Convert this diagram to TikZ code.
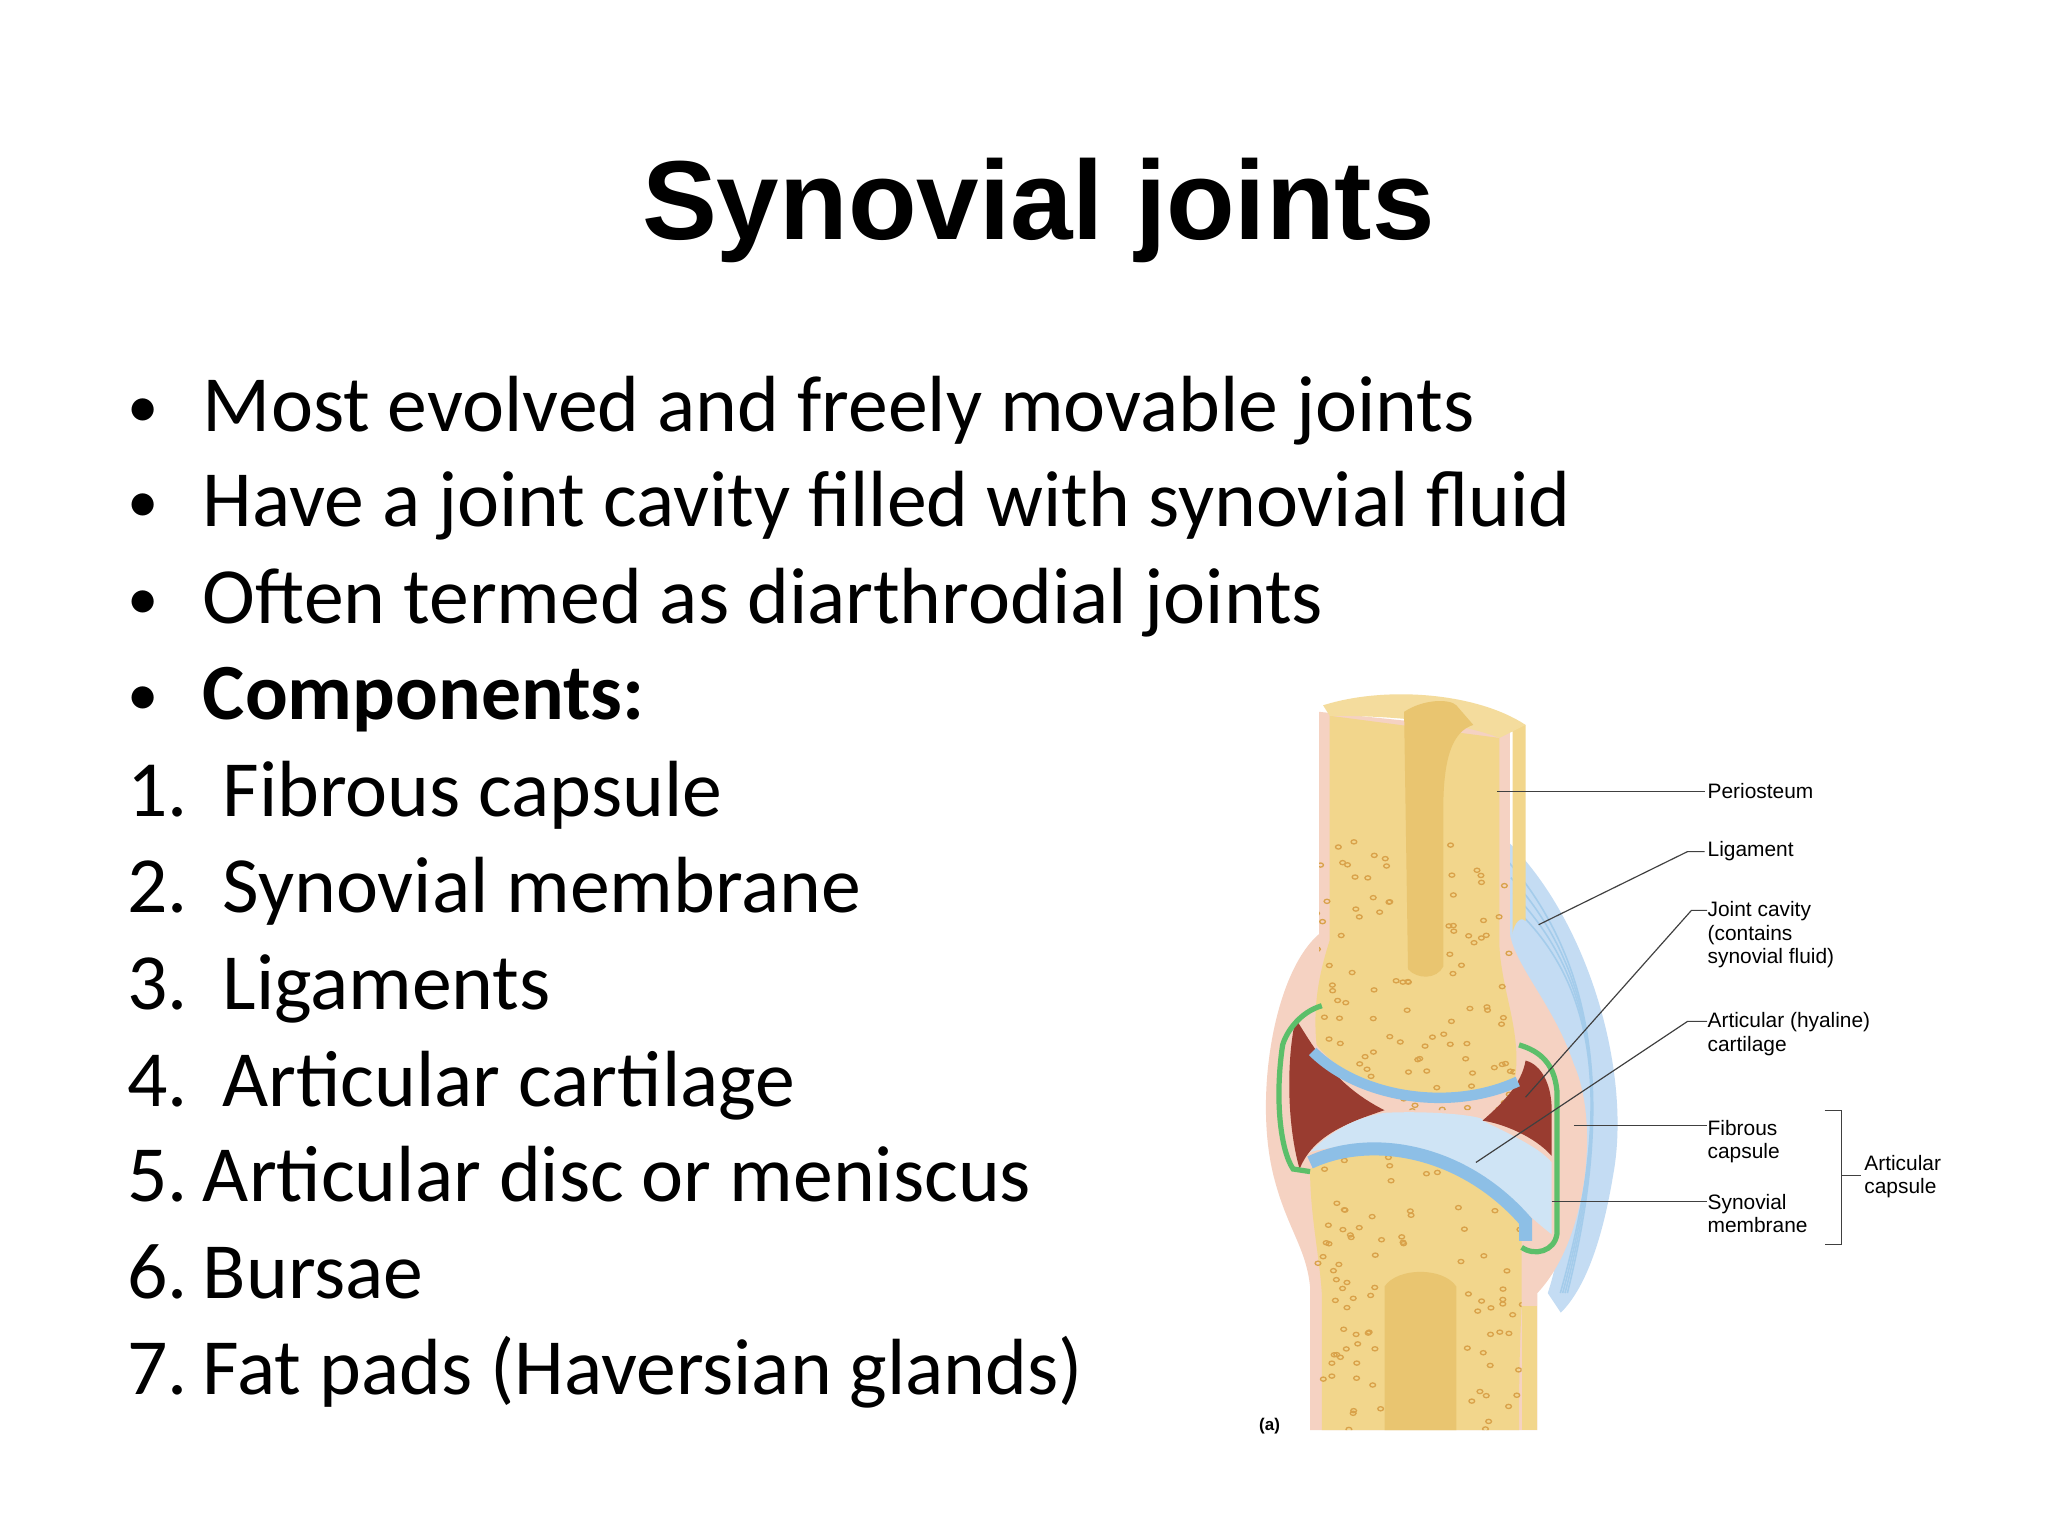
\documentclass[tikz,border=0pt]{standalone}
\usepackage{fontspec}
\setmainfont{Carlito}
\newfontfamily\arialf{Liberation Sans}
\definecolor{boneY}{HTML}{F2D68C}
\definecolor{boneD}{HTML}{E3B95E}
\definecolor{spot}{HTML}{D9A24A}
\definecolor{pinkP}{HTML}{F5D2C2}
\definecolor{cartB}{HTML}{8DBFE6}
\definecolor{cartL}{HTML}{CFE4F5}
\definecolor{cavR}{HTML}{993C30}
\definecolor{memG}{HTML}{5CBF6A}
\definecolor{ligB}{HTML}{C4DCF3}
\begin{document}
\begin{tikzpicture}[x=0.5pt,y=-0.5pt,
  bul/.style={anchor=base west,font=\fontsize{30.5}{30.5}\selectfont,inner sep=0},
  dot/.style={anchor=base west,font=\fontsize{24}{24}\selectfont,inner sep=0},
  lab/.style={anchor=west,font=\arialf\fontsize{8}{9}\selectfont,align=left,inner sep=1pt},
  lead/.style={draw=black!75,line width=0.45pt}]
\useasboundingbox (0,0) rectangle (1568,1176);
\fill[white] (0,0) rectangle (1568,1176);
% title
\node[anchor=base,font=\arialf\bfseries\fontsize{43}{43}\selectfont,inner sep=0] (title) at (795,183) {Synovial joints};
% bullets
\foreach \y/\t [count=\i] in {330/Most evolved and freely movable joints,403/Have a joint cavity filled with synovial fluid,477/Often termed as diarthrodial joints}{
  \node[dot] (bd\i) at (97,\y-3) {\textbullet};
  \node[bul] (b\i) at (155,\y) {\t};}
\node[dot] (bd4) at (97,548) {\textbullet};
\node[bul] (b4) at (155,551) {\textbf{Components:}};
\foreach \y/\n/\t in {625/1/Fibrous capsule,699/2/Synovial membrane,773/3/Ligaments,847/4/Articular cartilage}{
  \node[bul] (n\n) at (97,\y) {\n.};
  \node[bul] (c\n) at (170,\y) {\t};}
\foreach \y/\n/\t in {920/5/Articular disc or meniscus,994/6/Bursae,1068/7/Fat pads (Haversian glands)}{
  \node[bul] (n\n) at (97,\y) {\n.};
  \node[bul] (c\n) at (155,\y) {\t};}
% ---- joint illustration ----
% ligament
\fill[ligB] (1150,640) .. controls (1215,700) and (1250,820) .. (1235,900) .. controls (1225,960) and (1210,990) .. (1195,1005) -- (1185,990) .. controls (1205,930) and (1205,820) .. (1150,720) -- cycle;
\foreach \o in {0,6,12,18}{\draw[cartB!80,line width=0.6pt] (1155+\o*0.3,660+\o*2) .. controls (1215,730+\o) and (1240,830) .. (1200-\o*0.3,990);}
% pink silhouette
\fill[pinkP] (1010,545) -- (1010,715) .. controls (975,745) and (960,840) .. (975,900) .. controls (985,940) and (1000,955) .. (1003,985) -- (1003,1095) -- (1177,1095) -- (1177,990) .. controls (1215,950) and (1225,860) .. (1205,815) .. controls (1190,770) and (1160,740) .. (1156,715) -- (1156,560) -- cycle;
% shaft side (3D)
\fill[boneY] (1152,560) -- (1168,555) -- (1168,705) .. controls (1162,700) and (1158,712) .. (1158,715) -- (1158,560) -- cycle;
\fill[boneY] (1177,1000) -- (1177,1095) -- (1165,1095) -- (1165,1000) -- cycle;
% upper bone
\fill[boneY] (1018,548) -- (1018,720) .. controls (1010,745) and (1005,770) .. (1008,800) .. controls (1040,840) and (1110,850) .. (1160,825) .. controls (1165,790) and (1150,760) .. (1148,725) -- (1148,565) -- cycle;
\fill[boneY!85!white] (1013,540) .. controls (1060,525) and (1130,530) .. (1168,555) -- (1148,565) .. controls (1110,550) and (1050,548) .. (1018,548) -- cycle;
% medullary cavity
\fill[boneD!60!boneY] (1075,545) .. controls (1090,535) and (1110,535) .. (1115,540) -- (1128,555) .. controls (1112,560) and (1105,580) .. (1105,620) -- (1105,740) .. controls (1100,750) and (1085,750) .. (1078,742) -- cycle;
% lower bone
\fill[boneY] (1003,895) .. controls (1050,870) and (1120,880) .. (1165,935) -- (1165,1000) .. controls (1163,1040) and (1163,1070) .. (1163,1095) -- (1012,1095) -- (1012,990) .. controls (1010,960) and (1003,930) .. (1003,895) -- cycle;
\fill[boneD!60!boneY] (1060,1095) -- (1060,985) .. controls (1070,970) and (1105,970) .. (1115,985) -- (1115,1095) -- cycle;
% spongy spots
\begin{scope}
\clip (1010,640) rectangle (1160,850) (1005,885) rectangle (1165,1095);
\pgfmathsetseed{7}
\foreach \k in {1,...,260}{
  \pgfmathsetmacro{\xx}{1008+160*rnd}\pgfmathsetmacro{\yy}{640+455*rnd}
  \ifdim\yy pt<750pt \ifdim\xx pt>1072pt \ifdim\xx pt<1108pt \def\yy{2000}\fi\fi\fi
  \ifdim\yy pt>965pt \ifdim\xx pt>1058pt \ifdim\xx pt<1117pt \def\yy{2000}\fi\fi\fi
  \draw[spot,line width=0.5pt] (\xx,\yy) ellipse (2.2 and 1.6);}
\end{scope}
% cavity (brown)
\fill[cavR] (992,780) .. controls (1005,800) and (1020,830) .. (1060,850) .. controls (1030,860) and (1005,870) .. (995,895) .. controls (985,860) and (985,810) .. (992,780) -- cycle;
\fill[cavR] (1168,812) .. controls (1180,815) and (1188,830) .. (1188,850) -- (1188,885) .. controls (1175,870) and (1150,860) .. (1135,858) .. controls (1150,845) and (1165,830) .. (1168,812) -- cycle;
% cartilage
\fill[cartL] (1060,852) .. controls (1100,850) and (1140,855) .. (1135,858) .. controls (1160,870) and (1180,880) .. (1188,890) -- (1188,945) .. controls (1175,935) and (1165,925) .. (1150,912) .. controls (1110,880) and (1050,870) .. (1003,882) .. controls (1020,865) and (1040,855) .. (1060,852) -- cycle;
\draw[cartB,line width=4pt] (1005,805) .. controls (1040,840) and (1110,852) .. (1162,828);
\draw[cartB,line width=5pt] (1003,890) .. controls (1050,868) and (1120,880) .. (1168,935) -- (1168,950);
% synovial membrane
\draw[memG,line width=2pt] (1012,770) .. controls (995,775) and (985,790) .. (982,800) .. controls (976,840) and (980,880) .. (990,895) -- (1003,897);
\draw[memG,line width=2pt] (1163,800) .. controls (1180,805) and (1190,815) .. (1192,835) -- (1192,945) .. controls (1190,958) and (1175,962) .. (1165,955);
% leaders and labels
\node[lab] (peri) at (1305,606) {Periosteum};
\node[lab] (lig) at (1305,652) {Ligament};
\node[lab,anchor=north west] (cav) at (1305,688) {Joint cavity\\(contains\\synovial fluid)};
\node[lab,anchor=north west] (art) at (1305,773) {Articular (hyaline)\\cartilage};
\node[lab,anchor=north west] (fib) at (1305,855) {Fibrous\\capsule};
\node[lab,anchor=north west] (syn) at (1305,912) {Synovial\\membrane};
\node[lab,anchor=north west] (acap) at (1425,882) {Articular\\capsule};
\coordinate (pP) at (1146,606);
\coordinate (pL) at (1178,708);
\coordinate (pC) at (1168,840);
\coordinate (pA) at (1130,890);
\coordinate (pF) at (1205,862);
\coordinate (pS) at (1188,920);
\draw[lead] (pP) -- (peri.west);
\draw[lead] (pL) -- (1292,652) -- (lig.west);
\draw[lead] (pC) -- (1295,697) -- (1307,697);
\draw[lead] (pA) -- (1292,782) -- (1307,782);
\draw[lead] (pF) -- (1307,862);
\draw[lead] (pS) -- (1307,920);
\draw[lead] (1397,850) -- (1410,850) -- (1410,953) -- (1397,953);
\draw[lead] (1410,900) -- (acap.west |- 1410,900);
\node[font=\arialf\bfseries\fontsize{6.5}{7}\selectfont,inner sep=0] (a) at (972,1092) {(a)};
\end{tikzpicture}
\end{document}
